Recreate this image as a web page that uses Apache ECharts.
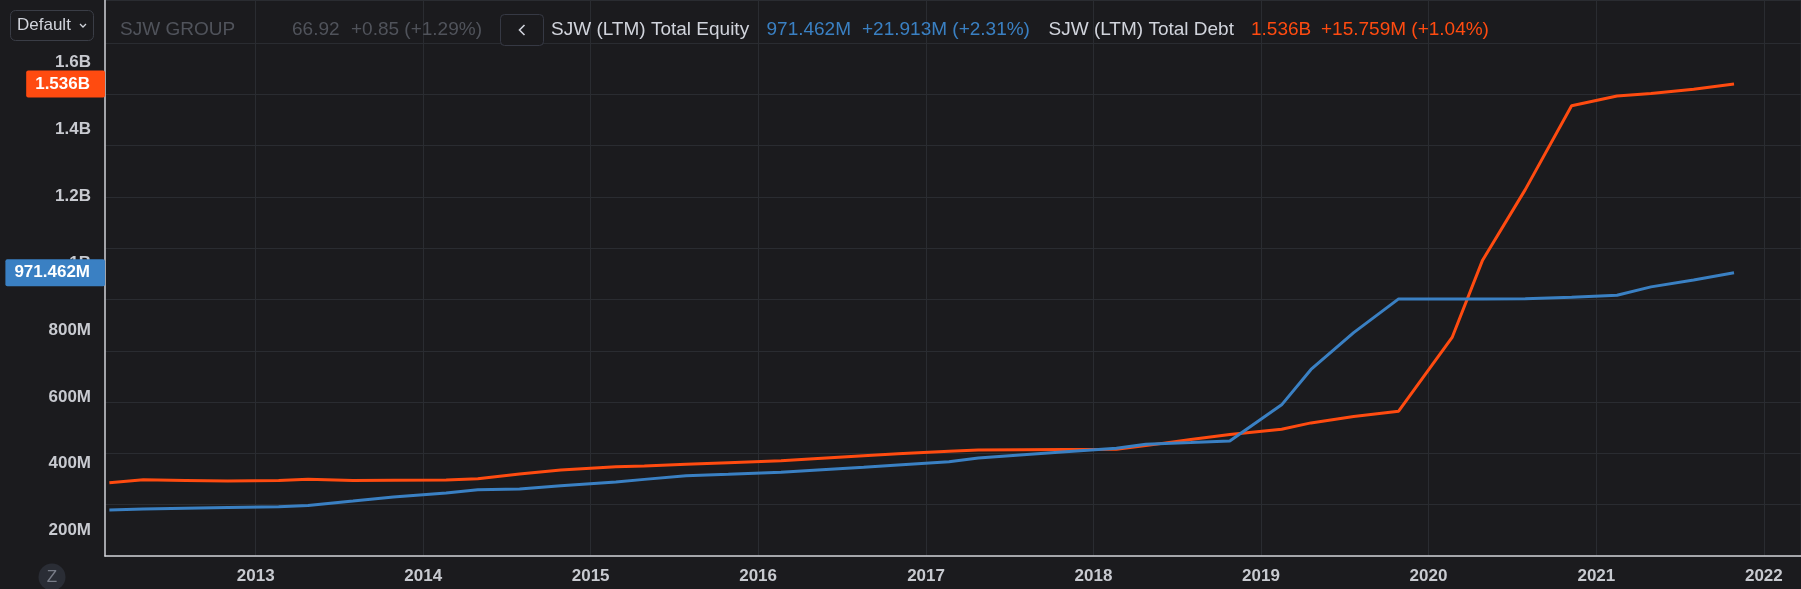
<!DOCTYPE html>
<html>
<head>
<meta charset="utf-8">
<script src="https://cdn.jsdelivr.net/npm/echarts@6/dist/echarts.min.js"></script>
<style>
html,body{margin:0;padding:0;background:#1b1b1e;overflow:hidden;}
#c{width:1801px;height:589px;}
</style>
</head>
<body>
<div id="c"></div>
<script>
// ---- data (values in millions USD) ----
const dates = [
  '2012-02-17','2012-05-01','2012-08-01','2012-11-01',
  '2013-02-20','2013-04-25','2013-08-01','2013-10-28',
  '2014-02-20','2014-04-30','2014-07-30','2014-10-28',
  '2015-02-25','2015-04-28','2015-07-28','2015-10-28',
  '2016-02-20','2016-05-01','2016-08-18','2016-11-01',
  '2017-02-20','2017-04-25','2017-08-01','2017-11-01',
  '2018-02-20','2018-04-25','2018-08-01','2018-10-25',
  '2019-02-15','2019-04-20','2019-07-22','2019-10-28',
  '2020-02-22','2020-04-28','2020-07-30','2020-11-08',
  '2021-02-15','2021-04-30','2021-08-01','2021-10-28'
];
const equity = [
  261, 264, 266.5, 269,
  271, 275, 288, 300,
  312, 322, 324, 334,
  345, 353, 364, 368,
  374, 380, 389, 396,
  406, 417, 427, 436,
  446, 458, 463, 468,
  576, 682, 792, 893,
  893, 892.5, 893.5, 898,
  904, 929, 949.549, 971.462
];
const debt = [
  343, 352, 350, 348,
  350, 353, 350, 350.5,
  351, 355, 369, 381,
  391, 393, 398, 403,
  409, 415, 424, 430,
  437, 441, 442, 442.5,
  443, 454, 472, 487,
  503, 522, 541, 557,
  779, 1009, 1220, 1471,
  1500, 1508, 1520.241, 1536
];
const yearTicks = ['2013','2014','2015','2016','2017','2018','2019','2020','2021','2022'];
const valueTicks = [200, 400, 600, 800, 1000, 1200, 1400, 1600];

const headerSymbol = 'SJW GROUP';
const headerQuote = ['66.92', '+0.85 (+1.29%)'];
const equityName = 'SJW (LTM) Total Equity';
const debtName = 'SJW (LTM) Total Debt';

// ---- helpers ----
const FONT = '"Liberation Sans", Arial, sans-serif';
const BLUE = '#3a80c3';
const ORANGE = '#ff4b10';
const GRID = '#2a2c31';
const AXIS = '#cfd1d6';
const TXT = '#d1d4dc';

const lastEq = equity[equity.length - 1], prevEq = equity[equity.length - 2];
const lastDebt = debt[debt.length - 1], prevDebt = debt[debt.length - 2];

function ts(s) { return +new Date(s + 'T00:00:00'); }
function fmtAxis(v) { return v >= 1000 ? (v / 1000) + 'B' : v + 'M'; }
function fmt3(v) { return v >= 1000 ? (v / 1000).toFixed(3) + 'B' : v.toFixed(3) + 'M'; }
function chg(last, prev) {
  const d = last - prev;
  return '+' + d.toFixed(3) + 'M (+' + (d / prev * 100).toFixed(2) + '%)';
}
const yearVals = yearTicks.map(y => ts(y + '-01-01'));

const chart = echarts.init(document.getElementById('c'), null, { renderer: 'canvas' });

const yMin = 123.7, yMax = 1787.5;

function txt(text, x, y, fill, size) {
  return { type: 'text', z: 50, style: { text: text, x: x, y: y, fill: fill, fontSize: size || 19, fontFamily: FONT, verticalAlign: 'middle', align: 'left' } };
}

const option = {
  backgroundColor: '#1b1b1e',
  animation: false,
  grid: { left: 105, right: 0, top: 0, bottom: 33, show: true, borderColor: GRID, borderWidth: 1, backgroundColor: 'transparent' },
  xAxis: {
    type: 'value',
    min: +new Date('2012-02-07T12:00:00'),
    max: +new Date('2022-03-23T00:00:00'),
    axisLine: { show: true, onZero: false, lineStyle: { color: AXIS, width: 1.5 } },
    axisTick: { show: false, customValues: yearVals },
    axisLabel: {
      customValues: yearVals,
      formatter: v => String(new Date(v).getFullYear()),
      color: '#c8cad0', fontWeight: 'bold', fontSize: 17, fontFamily: FONT, margin: 12
    },
    splitLine: { show: true, lineStyle: { color: GRID, width: 1 } }
  },
  yAxis: [
    {
      type: 'value', min: yMin, max: yMax, position: 'left',
      axisLine: { show: true, onZero: false, lineStyle: { color: AXIS, width: 1.5 } },
      axisTick: { show: false },
      splitLine: { show: false },
      axisLabel: {
        customValues: valueTicks,
        formatter: fmtAxis,
        color: '#c8cad0', fontWeight: 'bold', fontSize: 17, fontFamily: FONT, margin: 14
      }
    },
    {
      type: 'value', min: 0, max: 10.838, interval: 1, position: 'right',
      axisLine: { show: false }, axisTick: { show: false }, axisLabel: { show: false },
      splitLine: { show: true, lineStyle: { color: GRID, width: 1 } }
    },
    {
      type: 'value', min: yMin, max: yMax, position: 'left', z: 20,
      axisLine: { show: false }, axisTick: { show: false }, splitLine: { show: false },
      axisLabel: {
        customValues: [lastDebt, lastEq],
        margin: 0,
        formatter: v => (Math.abs(v - lastDebt) < 1 ? '{o|' : '{b|') + fmt3(v) + '}',
        rich: {
          o: { backgroundColor: ORANGE, color: '#ffffff', fontWeight: 'bold', fontSize: 17, fontFamily: FONT, lineHeight: 17, padding: [5, 15, 5, 9], borderRadius: 2 },
          b: { backgroundColor: BLUE, color: '#ffffff', fontWeight: 'bold', fontSize: 17, fontFamily: FONT, lineHeight: 17, padding: [5, 15, 5, 9], borderRadius: 2 }
        }
      }
    }
  ],
  series: [
    {
      name: debtName, type: 'line', yAxisIndex: 0, showSymbol: false, symbol: 'none',
      data: dates.map((d, i) => [ts(d), debt[i]]),
      lineStyle: { color: ORANGE, width: 3 }, itemStyle: { color: ORANGE }, z: 3
    },
    {
      name: equityName, type: 'line', yAxisIndex: 0, showSymbol: false, symbol: 'none',
      data: dates.map((d, i) => [ts(d), equity[i]]),
      lineStyle: { color: BLUE, width: 3 }, itemStyle: { color: BLUE }, z: 4
    }
  ],
  graphic: [
    { type: 'rect', z: 50, shape: { x: 10.5, y: 10.5, width: 83, height: 30, r: 5 }, style: { fill: 'none', stroke: '#3a3d46', lineWidth: 1 } },
    txt('Default', 17, 25.5, TXT, 17),
    { type: 'polyline', z: 50, shape: { points: [[80, 24], [83, 27], [86, 24]] }, style: { stroke: TXT, lineWidth: 1.3, fill: 'none' } },
    txt(headerSymbol, 120, 30, '#50535b'),
    txt(headerQuote[0], 292, 30, '#50535b'),
    txt(headerQuote[1], 351, 30, '#50535b'),
    { type: 'rect', z: 50, shape: { x: 500.5, y: 14.5, width: 43, height: 31, r: 4 }, style: { fill: '#1b1b1e', stroke: '#363944', lineWidth: 1 } },
    { type: 'polyline', z: 51, shape: { points: [[524.5, 25], [519.5, 30], [524.5, 35]] }, style: { stroke: TXT, lineWidth: 1.6, fill: 'none' } },
    txt(equityName, 551, 30, TXT),
    txt(fmt3(lastEq), 766.5, 30, BLUE),
    txt(chg(lastEq, prevEq), 862, 30, BLUE),
    txt(debtName, 1048.5, 30, TXT),
    txt(fmt3(lastDebt), 1251, 30, ORANGE),
    txt(chg(lastDebt, prevDebt), 1321, 30, ORANGE),
    { type: 'circle', z: 50, shape: { cx: 52, cy: 577, r: 13.5 }, style: { fill: '#2a2d35' } },
    { type: 'text', z: 51, style: { text: 'Z', x: 52, y: 577, fill: '#787c87', fontSize: 17, fontFamily: FONT, align: 'center', verticalAlign: 'middle' } }
  ]
};
chart.setOption(option);
</script>
</body>
</html>
